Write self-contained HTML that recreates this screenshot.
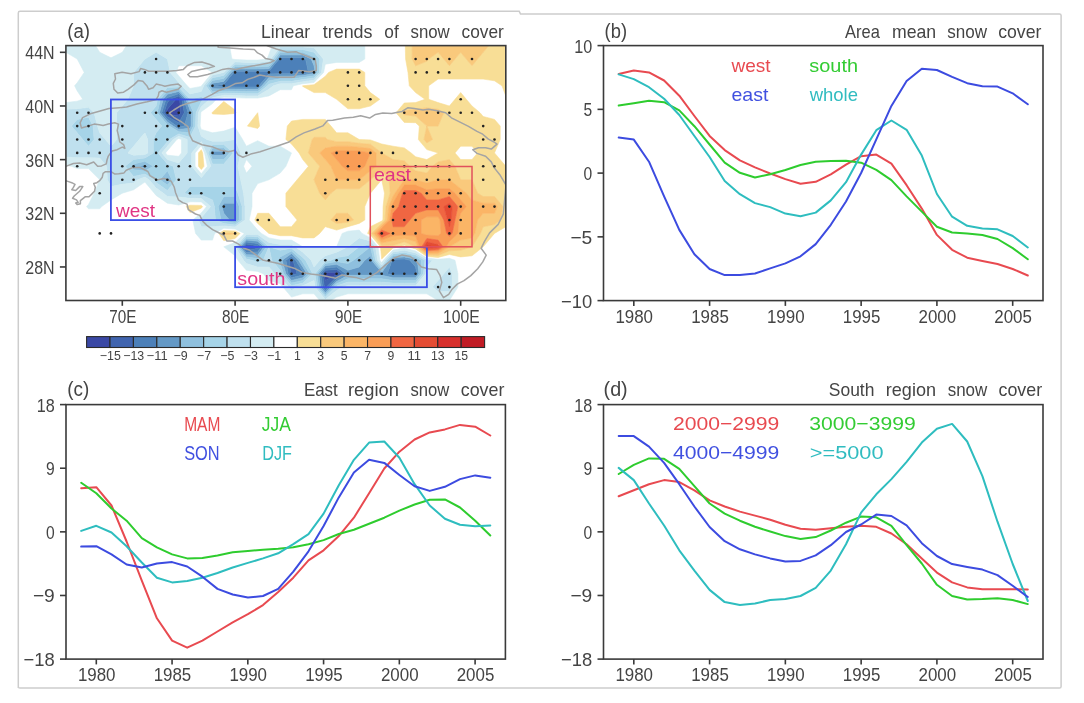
<!DOCTYPE html>
<html><head><meta charset="utf-8"><style>
html,body{margin:0;padding:0;background:#fff;width:1084px;height:703px;overflow:hidden}
svg{display:block;will-change:transform;filter:blur(0.4px)}
text{font-family:"Liberation Sans", sans-serif}
</style></head><body>
<svg width="1084" height="703" viewBox="0 0 1084 703">
<rect width="1084" height="703" fill="#fff"/>
<defs><clipPath id="mapclip"><rect x="65.9" y="45.6" width="439.9" height="254.9"/></clipPath></defs>
<g clip-path="url(#mapclip)"><path d="M324.4,273.7 325.3,280.4 336.6,274.8 338.5,273.7 336.6,272.3 325.3,272.6 324.4,273.7ZM245.5,246.8 246.4,248.0 252.0,246.8 246.4,245.9 245.5,246.8ZM166.3,112.7 167.4,114.0 178.7,116.0 180.6,112.7 179.7,99.3 178.7,98.1 175.9,99.3 167.4,109.3 166.3,112.7Z" fill="#3a48a5" stroke="#3a48a5" stroke-width="0.6" fill-rule="evenodd"/>
<path d="M324.4,287.1 325.3,288.2 326.5,287.1 336.6,277.0 342.2,273.7 336.6,269.6 325.3,270.3 322.5,273.7 324.4,287.1ZM325.3,280.4 324.4,273.7 325.3,272.6 336.6,272.3 338.5,273.7 336.6,274.8 325.3,280.4ZM290.4,273.7 291.5,275.0 297.1,273.7 292.9,260.3 291.5,258.9 289.6,260.3 290.4,273.7ZM243.8,246.8 246.4,250.2 257.7,248.5 258.9,246.8 257.7,245.7 246.4,244.0 243.8,246.8ZM246.4,248.0 245.5,246.8 246.4,245.9 252.0,246.8 246.4,248.0ZM164.0,112.7 167.4,116.7 178.7,122.7 184.3,112.7 181.8,99.3 178.7,95.9 170.2,99.3 167.4,102.6 164.0,112.7ZM167.4,114.0 166.3,112.7 167.4,109.3 175.9,99.3 178.7,98.1 179.7,99.3 180.6,112.7 178.7,116.0 167.4,114.0Z" fill="#4064af" stroke="#4064af" stroke-width="0.6" fill-rule="evenodd"/>
<path d="M322.5,287.1 325.3,290.4 328.7,287.1 336.6,279.3 346.0,273.7 336.6,267.0 325.3,268.1 320.6,273.7 322.5,287.1ZM325.3,288.2 324.4,287.1 322.5,273.7 325.3,270.3 336.6,269.6 342.2,273.7 336.6,277.0 326.5,287.1 325.3,288.2ZM288.1,273.7 291.5,277.7 302.8,275.0 304.2,273.7 302.8,271.4 295.7,260.3 291.5,256.2 285.9,260.3 288.1,273.7ZM291.5,275.0 290.4,273.7 289.6,260.3 291.5,258.9 292.9,260.3 297.1,273.7 291.5,275.0ZM387.4,273.7 393.0,275.0 404.3,275.0 415.6,275.0 416.7,273.7 415.6,267.0 409.9,260.3 404.3,259.1 393.0,259.3 392.1,260.3 387.4,273.7ZM242.0,246.8 246.4,252.4 257.7,251.9 261.4,246.8 257.7,243.5 246.4,242.0 242.0,246.8ZM246.4,250.2 243.8,246.8 246.4,244.0 257.7,245.7 258.9,246.8 257.7,248.5 246.4,250.2ZM176.8,126.1 178.7,127.2 184.3,126.1 188.1,112.7 183.8,99.3 178.7,93.7 167.4,97.6 166.0,99.3 161.8,112.7 167.4,119.4 176.8,126.1ZM167.4,116.7 164.0,112.7 167.4,102.6 170.2,99.3 178.7,95.9 181.8,99.3 184.3,112.7 178.7,122.7 167.4,116.7ZM212.5,85.8 212.5,85.8 223.8,86.9 235.1,86.9 246.4,87.0 257.7,87.0 259.1,85.8 268.9,74.1 280.2,73.7 291.5,73.7 302.8,73.5 308.4,72.4 305.6,59.0 302.8,57.7 291.5,57.7 280.2,57.7 279.2,59.0 268.9,71.2 257.7,71.3 246.4,71.3 235.1,71.3 233.8,72.4 223.8,84.4 212.5,85.8 212.5,85.8Z" fill="#4c80b9" stroke="#4c80b9" stroke-width="0.6" fill-rule="evenodd"/>
<path d="M320.6,287.1 325.3,292.7 331.0,287.1 336.6,281.5 347.9,275.3 359.2,275.3 370.4,275.3 381.7,275.3 393.0,277.7 404.3,277.7 415.6,277.7 418.9,273.7 417.4,260.3 415.6,259.2 404.3,256.9 393.0,257.5 390.4,260.3 381.7,272.4 371.5,260.3 370.4,255.8 364.8,260.3 359.2,267.0 347.9,270.3 336.6,264.3 325.3,265.8 318.7,273.7 320.6,287.1ZM325.3,290.4 322.5,287.1 320.6,273.7 325.3,268.1 336.6,267.0 346.0,273.7 336.6,279.3 328.7,287.1 325.3,290.4ZM393.0,275.0 387.4,273.7 392.1,260.3 393.0,259.3 404.3,259.1 409.9,260.3 415.6,267.0 416.7,273.7 415.6,275.0 404.3,275.0 393.0,275.0ZM285.9,273.7 291.5,280.4 302.8,277.7 307.0,273.7 302.8,267.0 298.5,260.3 291.5,253.5 282.1,260.3 285.9,273.7ZM291.5,277.7 288.1,273.7 285.9,260.3 291.5,256.2 295.7,260.3 302.8,271.4 304.2,273.7 302.8,275.0 291.5,277.7ZM240.3,246.8 246.4,254.7 257.7,255.2 263.9,246.8 257.7,241.2 246.4,240.1 240.3,246.8ZM246.4,252.4 242.0,246.8 246.4,242.0 257.7,243.5 261.4,246.8 257.7,251.9 246.4,252.4ZM229.5,220.0 235.1,221.0 236.5,220.0 236.5,206.6 235.1,203.2 223.8,203.2 221.9,206.6 223.8,213.3 229.5,220.0ZM167.4,179.8 167.4,179.8 167.4,179.8 167.4,179.8 167.4,179.8ZM139.2,166.3 144.9,167.9 147.7,166.3 144.9,164.7 139.2,166.3ZM211.6,152.9 212.5,155.2 223.8,155.2 225.7,152.9 223.8,151.2 212.5,151.2 211.6,152.9ZM173.1,126.1 178.7,129.4 190.0,128.3 191.1,126.1 191.2,112.7 190.0,110.0 185.9,99.3 178.7,91.4 167.4,94.2 163.2,99.3 159.5,112.7 167.4,122.1 173.1,126.1ZM178.7,127.2 176.8,126.1 167.4,119.4 161.8,112.7 166.0,99.3 167.4,97.6 178.7,93.7 183.8,99.3 188.1,112.7 184.3,126.1 178.7,127.2ZM210.3,85.8 212.5,88.8 223.8,89.0 235.1,89.0 246.4,89.2 257.7,89.2 261.9,85.8 268.9,77.5 280.2,76.2 291.5,76.2 302.8,75.5 314.0,73.5 315.1,72.4 314.0,65.7 311.2,59.0 302.8,55.0 291.5,55.0 280.2,55.0 277.1,59.0 268.9,68.7 257.7,69.1 246.4,69.1 235.1,68.9 231.3,72.4 223.8,81.4 212.5,83.2 210.3,85.8ZM212.5,85.8 212.5,85.8 212.5,85.8 223.8,84.4 233.8,72.4 235.1,71.3 246.4,71.3 257.7,71.3 268.9,71.2 279.2,59.0 280.2,57.7 291.5,57.7 302.8,57.7 305.6,59.0 308.4,72.4 302.8,73.5 291.5,73.7 280.2,73.7 268.9,74.1 259.1,85.8 257.7,87.0 246.4,87.0 235.1,86.9 223.8,86.9 212.5,85.8Z" fill="#6499c6" stroke="#6499c6" stroke-width="0.6" fill-rule="evenodd"/>
<path d="M318.7,287.1 325.3,294.9 333.2,287.1 336.6,283.7 347.9,278.7 359.2,278.7 370.4,278.7 381.7,278.7 393.0,280.4 404.3,280.4 415.6,280.4 421.2,273.7 421.2,260.3 415.6,257.2 404.3,254.7 393.0,255.6 388.6,260.3 381.7,270.0 373.6,260.3 370.4,246.8 370.4,246.8 370.4,246.8 359.2,255.8 353.5,260.3 347.9,263.6 336.6,261.6 325.3,263.6 316.9,273.7 318.7,287.1ZM325.3,292.7 320.6,287.1 318.7,273.7 325.3,265.8 336.6,264.3 347.9,270.3 359.2,267.0 364.8,260.3 370.4,255.8 371.5,260.3 381.7,272.4 390.4,260.3 393.0,257.5 404.3,256.9 415.6,259.2 417.4,260.3 418.9,273.7 415.6,277.7 404.3,277.7 393.0,277.7 381.7,275.3 370.4,275.3 359.2,275.3 347.9,275.3 336.6,281.5 331.0,287.1 325.3,292.7ZM283.6,273.7 291.5,283.1 302.8,280.4 309.8,273.7 302.8,262.5 301.4,260.3 291.5,250.9 280.2,256.9 277.4,260.3 280.2,263.6 283.6,273.7ZM291.5,280.4 285.9,273.7 282.1,260.3 291.5,253.5 298.5,260.3 302.8,267.0 307.0,273.7 302.8,277.7 291.5,280.4ZM238.6,246.8 246.4,256.9 257.7,258.6 266.4,246.8 257.7,239.0 246.4,238.2 238.6,246.8ZM246.4,254.7 240.3,246.8 246.4,240.1 257.7,241.2 263.9,246.8 257.7,255.2 246.4,254.7ZM221.0,220.0 223.8,221.2 235.1,223.0 239.3,220.0 239.3,206.6 235.1,196.5 223.8,196.5 218.2,206.6 221.0,220.0ZM235.1,221.0 229.5,220.0 223.8,213.3 221.9,206.6 223.8,203.2 235.1,203.2 236.5,206.6 236.5,220.0 235.1,221.0ZM159.9,179.8 167.4,185.1 171.9,179.8 167.4,170.8 159.9,179.8ZM167.4,179.8 167.4,179.8 167.4,179.8 167.4,179.8 167.4,179.8ZM130.8,166.3 133.6,169.7 144.9,170.9 153.3,166.3 144.9,161.3 133.6,164.1 130.8,166.3ZM144.9,167.9 139.2,166.3 144.9,164.7 147.7,166.3 144.9,167.9ZM209.8,152.9 212.5,159.6 223.8,159.6 229.5,152.9 223.8,147.9 212.5,147.9 209.8,152.9ZM212.5,155.2 211.6,152.9 212.5,151.2 223.8,151.2 225.7,152.9 223.8,155.2 212.5,155.2ZM88.5,126.1 88.5,126.1 88.5,126.1 88.5,126.1 88.5,126.1ZM169.3,126.1 178.7,131.7 190.0,132.8 193.4,126.1 193.6,112.7 190.0,104.6 187.9,99.3 178.7,89.2 167.4,90.9 160.4,99.3 157.3,112.7 167.4,124.8 169.3,126.1ZM178.7,129.4 173.1,126.1 167.4,122.1 159.5,112.7 163.2,99.3 167.4,94.2 178.7,91.4 185.9,99.3 190.0,110.0 191.2,112.7 191.1,126.1 190.0,128.3 178.7,129.4ZM208.1,85.8 212.5,91.8 223.8,91.0 235.1,91.2 246.4,91.4 257.7,91.4 264.7,85.8 268.9,80.8 280.2,78.8 291.5,78.8 302.8,77.6 314.0,75.8 317.2,72.4 315.9,59.0 314.0,56.8 302.8,52.3 291.5,52.3 280.2,52.3 275.0,59.0 268.9,66.2 257.7,66.8 246.4,66.8 235.1,66.5 228.8,72.4 223.8,78.4 212.5,80.5 208.1,85.8ZM212.5,88.8 210.3,85.8 212.5,83.2 223.8,81.4 231.3,72.4 235.1,68.9 246.4,69.1 257.7,69.1 268.9,68.7 277.1,59.0 280.2,55.0 291.5,55.0 302.8,55.0 311.2,59.0 314.0,65.7 315.1,72.4 314.0,73.5 302.8,75.5 291.5,76.2 280.2,76.2 268.9,77.5 261.9,85.8 257.7,89.2 246.4,89.2 235.1,89.0 223.8,89.0 212.5,88.8Z" fill="#8fc0de" stroke="#8fc0de" stroke-width="0.6" fill-rule="evenodd"/>
<path d="M316.9,287.1 325.3,297.1 335.5,287.1 336.6,286.0 347.9,282.1 359.2,282.1 370.4,282.1 381.7,282.1 393.0,283.1 404.3,283.1 415.6,283.1 423.5,273.7 425.0,260.3 415.6,255.1 404.3,252.4 393.0,253.7 386.9,260.3 381.7,267.5 375.6,260.3 373.0,246.8 370.4,243.9 359.2,246.8 359.2,246.8 347.9,255.8 336.6,257.6 331.0,260.3 325.3,261.4 315.0,273.7 316.9,287.1ZM325.3,294.9 318.7,287.1 316.9,273.7 325.3,263.6 336.6,261.6 347.9,263.6 353.5,260.3 359.2,255.8 370.4,246.8 370.4,246.8 370.4,246.8 373.6,260.3 381.7,270.0 388.6,260.3 393.0,255.6 404.3,254.7 415.6,257.2 421.2,260.3 421.2,273.7 415.6,280.4 404.3,280.4 393.0,280.4 381.7,278.7 370.4,278.7 359.2,278.7 347.9,278.7 336.6,283.7 333.2,287.1 325.3,294.9ZM281.3,273.7 291.5,285.7 302.8,283.1 312.6,273.7 305.6,260.3 302.8,257.6 291.5,248.2 280.2,250.2 268.9,246.8 268.9,246.8 257.7,236.8 246.4,236.3 236.8,246.8 246.4,259.1 252.0,260.3 257.7,262.5 263.3,260.3 268.9,246.8 271.8,260.3 280.2,270.3 281.3,273.7ZM291.5,283.1 283.6,273.7 280.2,263.6 277.4,260.3 280.2,256.9 291.5,250.9 301.4,260.3 302.8,262.5 309.8,273.7 302.8,280.4 291.5,283.1ZM246.4,256.9 238.6,246.8 246.4,238.2 257.7,239.0 266.4,246.8 257.7,258.6 246.4,256.9ZM215.4,220.0 223.8,223.5 235.1,225.0 242.1,220.0 242.1,206.6 237.9,193.2 235.1,186.5 223.8,186.5 212.5,186.5 201.3,186.5 190.0,186.5 184.3,193.2 190.0,194.9 201.3,194.9 212.5,199.9 214.4,206.6 215.4,220.0ZM223.8,221.2 221.0,220.0 218.2,206.6 223.8,196.5 235.1,196.5 239.3,206.6 239.3,220.0 235.1,223.0 223.8,221.2ZM153.8,179.8 156.1,182.6 167.4,190.5 176.4,179.8 173.1,166.3 167.4,164.1 158.0,152.9 167.4,141.7 169.3,139.5 178.7,133.9 190.0,137.3 195.6,126.1 196.0,112.7 201.3,101.7 204.1,99.3 201.3,96.7 190.0,99.3 178.7,87.0 167.4,87.5 157.5,99.3 156.1,106.0 150.5,112.7 156.1,119.4 161.8,126.1 156.1,132.8 153.3,139.5 153.3,152.9 144.9,158.0 133.6,159.6 125.1,166.3 133.6,176.4 144.9,174.0 153.8,179.8ZM167.4,185.1 159.9,179.8 167.4,170.8 171.9,179.8 167.4,185.1ZM178.7,131.7 169.3,126.1 167.4,124.8 157.3,112.7 160.4,99.3 167.4,90.9 178.7,89.2 187.9,99.3 190.0,104.6 193.6,112.7 193.4,126.1 190.0,132.8 178.7,131.7ZM133.6,169.7 130.8,166.3 133.6,164.1 144.9,161.3 153.3,166.3 144.9,170.9 133.6,169.7ZM208.1,152.9 212.5,164.1 223.8,164.1 233.2,152.9 223.8,144.5 212.5,144.5 208.1,152.9ZM212.5,159.6 209.8,152.9 212.5,147.9 223.8,147.9 229.5,152.9 223.8,159.6 212.5,159.6ZM82.8,139.5 88.5,146.2 94.1,139.5 93.0,126.1 88.5,117.2 77.2,119.4 71.5,126.1 77.2,132.8 82.8,139.5ZM88.5,126.1 88.5,126.1 88.5,126.1 88.5,126.1 88.5,126.1ZM205.9,85.8 212.5,94.8 223.8,93.1 235.1,93.3 246.4,93.7 257.7,93.7 267.5,85.8 268.9,84.2 280.2,81.3 291.5,81.3 302.8,79.6 314.0,78.0 319.4,72.4 319.7,59.0 314.0,52.3 302.8,49.6 291.5,49.6 280.2,49.6 272.9,59.0 268.9,63.7 257.7,64.6 246.4,64.6 235.1,64.2 226.3,72.4 223.8,75.4 212.5,77.8 205.9,85.8ZM212.5,91.8 208.1,85.8 212.5,80.5 223.8,78.4 228.8,72.4 235.1,66.5 246.4,66.8 257.7,66.8 268.9,66.2 275.0,59.0 280.2,52.3 291.5,52.3 302.8,52.3 314.0,56.8 315.9,59.0 317.2,72.4 314.0,75.8 302.8,77.6 291.5,78.8 280.2,78.8 268.9,80.8 264.7,85.8 257.7,91.4 246.4,91.4 235.1,91.2 223.8,91.0 212.5,91.8Z" fill="#a6d4e8" stroke="#a6d4e8" stroke-width="0.6" fill-rule="evenodd"/>
<path d="M288.7,287.1 291.5,290.4 297.1,287.1 302.8,285.7 314.0,280.4 315.0,287.1 325.3,299.4 336.6,290.4 342.2,287.1 347.9,285.4 359.2,285.4 370.4,285.4 381.7,285.4 393.0,285.7 404.3,285.7 415.6,285.7 425.7,273.7 426.8,267.0 432.5,260.3 426.8,259.5 415.6,253.0 404.3,250.2 393.0,251.9 385.1,260.3 381.7,265.1 377.7,260.3 375.5,246.8 370.4,240.9 359.2,237.9 347.9,246.8 347.9,246.8 336.6,252.2 325.3,255.8 319.7,260.3 314.0,267.0 311.2,260.3 302.8,252.2 295.2,246.8 291.5,244.6 280.2,244.6 268.9,242.4 257.7,234.5 246.4,234.4 235.1,246.8 235.1,246.8 235.1,246.8 243.6,260.3 246.4,263.6 257.7,267.0 268.9,267.0 274.6,273.7 280.2,277.0 288.7,287.1ZM291.5,285.7 281.3,273.7 280.2,270.3 271.8,260.3 268.9,246.8 263.3,260.3 257.7,262.5 252.0,260.3 246.4,259.1 236.8,246.8 246.4,236.3 257.7,236.8 268.9,246.8 268.9,246.8 280.2,250.2 291.5,248.2 302.8,257.6 305.6,260.3 312.6,273.7 302.8,283.1 291.5,285.7ZM325.3,297.1 316.9,287.1 315.0,273.7 325.3,261.4 331.0,260.3 336.6,257.6 347.9,255.8 359.2,246.8 359.2,246.8 370.4,243.9 373.0,246.8 375.6,260.3 381.7,267.5 386.9,260.3 393.0,253.7 404.3,252.4 415.6,255.1 425.0,260.3 423.5,273.7 415.6,283.1 404.3,283.1 393.0,283.1 381.7,282.1 370.4,282.1 359.2,282.1 347.9,282.1 336.6,286.0 335.5,287.1 325.3,297.1ZM432.5,287.1 438.1,291.6 449.4,291.6 452.2,287.1 452.2,273.7 449.4,267.0 443.8,273.7 438.1,280.4 432.5,287.1ZM198.4,220.0 201.3,226.7 212.5,226.7 223.8,225.9 235.1,227.0 245.0,220.0 245.0,206.6 243.6,193.2 240.7,179.8 237.9,166.3 240.7,152.9 235.1,139.5 235.1,139.5 235.1,139.5 223.8,141.2 212.5,141.2 206.9,139.5 201.3,136.2 197.9,126.1 198.4,112.7 201.3,106.7 209.7,99.3 212.5,97.8 223.8,95.2 235.1,95.4 246.4,95.9 257.7,95.9 268.9,89.2 273.3,85.8 280.2,83.8 291.5,83.8 302.8,81.7 314.0,80.3 321.5,72.4 323.4,59.0 314.0,47.8 302.8,46.9 291.5,46.9 280.2,46.9 270.8,59.0 268.9,61.3 257.7,62.4 246.4,62.4 235.1,61.8 223.8,72.4 223.8,72.4 212.5,75.1 203.7,85.8 201.3,91.5 190.0,93.9 181.5,85.8 178.7,82.5 170.2,72.4 167.4,59.0 167.4,59.0 156.1,52.3 144.9,59.0 144.9,59.0 133.6,72.4 133.6,72.4 133.6,85.8 127.9,99.3 122.3,106.0 116.7,112.7 116.7,126.1 116.7,139.5 111.0,146.2 105.4,139.5 99.7,132.8 97.5,126.1 94.1,112.7 88.5,107.3 77.2,108.8 65.9,109.3 65.9,112.7 65.9,126.1 65.9,139.5 65.9,152.9 65.9,157.1 77.2,157.7 88.5,157.7 99.7,158.1 106.7,166.3 107.3,179.8 111.0,186.5 122.3,184.2 133.6,183.1 137.6,179.8 144.9,177.0 149.1,179.8 156.1,188.1 163.4,193.2 167.4,196.5 178.7,197.1 190.0,198.3 201.3,198.4 210.6,206.6 201.3,217.7 198.4,220.0ZM223.8,223.5 215.4,220.0 214.4,206.6 212.5,199.9 201.3,194.9 190.0,194.9 184.3,193.2 190.0,186.5 201.3,186.5 212.5,186.5 223.8,186.5 235.1,186.5 237.9,193.2 242.1,206.6 242.1,220.0 235.1,225.0 223.8,223.5ZM212.5,94.8 205.9,85.8 212.5,77.8 223.8,75.4 226.3,72.4 235.1,64.2 246.4,64.6 257.7,64.6 268.9,63.7 272.9,59.0 280.2,49.6 291.5,49.6 302.8,49.6 314.0,52.3 319.7,59.0 319.4,72.4 314.0,78.0 302.8,79.6 291.5,81.3 280.2,81.3 268.9,84.2 267.5,85.8 257.7,93.7 246.4,93.7 235.1,93.3 223.8,93.1 212.5,94.8ZM88.5,146.2 82.8,139.5 77.2,132.8 71.5,126.1 77.2,119.4 88.5,117.2 93.0,126.1 94.1,139.5 88.5,146.2ZM156.1,182.6 153.8,179.8 144.9,174.0 133.6,176.4 125.1,166.3 133.6,159.6 144.9,158.0 153.3,152.9 153.3,139.5 156.1,132.8 161.8,126.1 156.1,119.4 150.5,112.7 156.1,106.0 157.5,99.3 167.4,87.5 178.7,87.0 190.0,99.3 201.3,96.7 204.1,99.3 201.3,101.7 196.0,112.7 195.6,126.1 190.0,137.3 178.7,133.9 169.3,139.5 167.4,141.7 158.0,152.9 167.4,164.1 173.1,166.3 176.4,179.8 167.4,190.5 156.1,182.6ZM201.3,177.7 191.7,166.3 191.7,152.9 201.3,141.5 206.3,152.9 210.8,166.3 201.3,177.7ZM212.5,164.1 208.1,152.9 212.5,144.5 223.8,144.5 233.2,152.9 223.8,164.1 212.5,164.1ZM133.6,155.2 127.9,152.9 133.6,146.2 139.2,139.5 144.9,132.8 147.7,139.5 147.7,152.9 144.9,154.6 133.6,155.2ZM167.4,159.6 161.8,152.9 167.4,146.2 173.1,139.5 178.7,136.2 187.2,139.5 187.2,152.9 178.7,163.0 167.4,159.6Z" fill="#bfe0ee" stroke="#bfe0ee" stroke-width="0.6" fill-rule="evenodd"/>
<path d="M283.0,287.1 291.5,297.1 302.8,293.8 314.0,293.8 319.7,300.5 325.3,300.5 331.0,300.5 336.6,297.1 347.9,293.8 359.2,293.8 370.4,293.8 381.7,293.8 393.0,293.8 404.3,293.8 415.6,293.8 426.8,293.8 438.1,300.5 438.1,300.5 449.4,300.5 449.4,300.5 457.9,287.1 457.9,273.7 455.0,260.3 449.4,258.3 438.1,259.3 426.8,258.0 415.6,251.0 404.3,248.0 393.0,250.0 383.4,260.3 381.7,262.6 379.8,260.3 378.0,246.8 370.4,237.9 362.0,233.4 359.2,230.1 347.9,231.2 342.2,233.4 336.6,246.8 325.3,246.8 314.0,246.8 302.8,246.8 291.5,240.1 280.2,240.1 268.9,237.9 261.4,233.4 257.7,230.1 249.2,220.0 252.0,206.6 252.0,193.2 257.7,183.6 268.9,179.8 268.9,179.8 280.2,173.1 285.9,166.3 291.5,152.9 291.5,152.9 291.5,152.9 280.2,146.2 268.9,146.2 257.7,140.7 246.4,146.2 242.6,139.5 235.1,127.3 223.8,131.1 212.5,132.8 201.3,129.4 200.1,126.1 200.8,112.7 201.3,111.7 212.5,103.6 216.3,99.3 223.8,97.2 235.1,97.6 246.4,98.1 257.7,98.1 268.9,95.9 280.2,89.7 291.5,89.7 293.3,85.8 302.8,83.7 314.0,82.5 323.6,72.4 325.3,64.2 336.6,62.4 347.9,62.4 359.2,62.4 364.8,59.0 364.8,45.6 359.2,45.6 347.9,45.6 336.6,45.6 325.3,45.6 314.0,45.6 302.8,45.6 291.5,45.6 280.2,45.6 272.2,45.6 268.9,54.5 267.1,59.0 257.7,60.1 246.4,60.1 235.1,59.5 231.9,59.0 229.5,45.6 223.8,45.6 212.5,45.6 201.3,45.6 190.0,45.6 178.7,45.6 167.4,45.6 156.1,45.6 144.9,45.6 133.6,45.6 126.5,45.6 122.3,52.3 111.0,57.8 99.7,52.3 95.5,45.6 88.5,45.6 77.2,45.6 65.9,45.6 65.9,52.3 77.2,59.0 77.2,59.0 84.2,72.4 77.2,82.8 74.6,85.8 77.2,90.9 82.8,99.3 77.2,101.2 65.9,102.6 65.9,109.3 77.2,108.8 88.5,107.3 94.1,112.7 97.5,126.1 99.7,132.8 105.4,139.5 111.0,146.2 116.7,139.5 116.7,126.1 116.7,112.7 122.3,106.0 127.9,99.3 133.6,85.8 133.6,72.4 133.6,72.4 144.9,59.0 144.9,59.0 156.1,52.3 167.4,59.0 167.4,59.0 170.2,72.4 178.7,82.5 181.5,85.8 190.0,93.9 201.3,91.5 203.7,85.8 212.5,75.1 223.8,72.4 223.8,72.4 235.1,61.8 246.4,62.4 257.7,62.4 268.9,61.3 270.8,59.0 280.2,46.9 291.5,46.9 302.8,46.9 314.0,47.8 323.4,59.0 321.5,72.4 314.0,80.3 302.8,81.7 291.5,83.8 280.2,83.8 273.3,85.8 268.9,89.2 257.7,95.9 246.4,95.9 235.1,95.4 223.8,95.2 212.5,97.8 209.7,99.3 201.3,106.7 198.4,112.7 197.9,126.1 201.3,136.2 206.9,139.5 212.5,141.2 223.8,141.2 235.1,139.5 235.1,139.5 235.1,139.5 240.7,152.9 237.9,166.3 240.7,179.8 243.6,193.2 245.0,206.6 245.0,220.0 235.1,227.0 223.8,225.9 212.5,226.7 201.3,226.7 198.4,220.0 201.3,217.7 210.6,206.6 201.3,198.4 190.0,198.3 178.7,197.1 167.4,196.5 163.4,193.2 156.1,188.1 149.1,179.8 144.9,177.0 137.6,179.8 133.6,183.1 122.3,184.2 111.0,186.5 107.3,179.8 106.7,166.3 99.7,158.1 88.5,157.7 77.2,157.7 65.9,157.1 65.9,165.5 71.5,166.3 77.2,168.6 88.5,168.6 99.7,179.8 94.1,193.2 88.5,204.4 86.6,206.6 88.5,208.8 99.7,208.8 101.6,206.6 111.0,199.9 122.3,193.2 122.3,193.2 133.6,189.8 144.9,182.0 154.3,193.2 156.1,195.4 167.4,203.2 178.7,205.0 190.0,201.8 201.3,201.9 206.6,206.6 201.3,212.9 192.8,220.0 195.6,233.4 201.3,240.1 212.5,240.1 214.6,233.4 223.8,228.2 235.1,229.0 244.3,233.4 235.1,242.6 223.8,246.8 223.8,246.8 223.8,246.8 235.1,255.8 237.9,260.3 246.4,270.3 257.7,271.4 263.3,273.7 268.9,280.4 280.2,283.7 283.0,287.1ZM291.5,290.4 288.7,287.1 280.2,277.0 274.6,273.7 268.9,267.0 257.7,267.0 246.4,263.6 243.6,260.3 235.1,246.8 235.1,246.8 235.1,246.8 246.4,234.4 257.7,234.5 268.9,242.4 280.2,244.6 291.5,244.6 295.2,246.8 302.8,252.2 311.2,260.3 314.0,267.0 319.7,260.3 325.3,255.8 336.6,252.2 347.9,246.8 347.9,246.8 359.2,237.9 370.4,240.9 375.5,246.8 377.7,260.3 381.7,265.1 385.1,260.3 393.0,251.9 404.3,250.2 415.6,253.0 426.8,259.5 432.5,260.3 426.8,267.0 425.7,273.7 415.6,285.7 404.3,285.7 393.0,285.7 381.7,285.4 370.4,285.4 359.2,285.4 347.9,285.4 342.2,287.1 336.6,290.4 325.3,299.4 315.0,287.1 314.0,280.4 302.8,285.7 297.1,287.1 291.5,290.4ZM438.1,291.6 432.5,287.1 438.1,280.4 443.8,273.7 449.4,267.0 452.2,273.7 452.2,287.1 449.4,291.6 438.1,291.6ZM190.0,88.5 187.2,85.8 178.7,75.8 175.9,72.4 178.7,65.7 190.0,65.7 201.3,65.7 212.5,72.4 201.5,85.8 201.3,86.4 190.0,88.5ZM246.4,173.1 243.6,166.3 246.4,159.6 252.0,166.3 246.4,173.1ZM191.7,166.3 201.3,177.7 210.8,166.3 206.3,152.9 201.3,141.5 191.7,152.9 191.7,166.3ZM201.3,173.7 195.1,166.3 195.1,152.9 201.3,145.6 204.5,152.9 207.4,166.3 201.3,173.7ZM127.9,152.9 133.6,155.2 144.9,154.6 147.7,152.9 147.7,139.5 144.9,132.8 139.2,139.5 133.6,146.2 127.9,152.9ZM161.8,152.9 167.4,159.6 178.7,163.0 187.2,152.9 187.2,139.5 178.7,136.2 173.1,139.5 167.4,146.2 161.8,152.9ZM167.4,155.2 165.5,152.9 167.4,150.7 176.8,139.5 178.7,138.4 181.5,139.5 181.5,152.9 178.7,156.3 167.4,155.2Z" fill="#d4ecf2" stroke="#d4ecf2" stroke-width="0.6" fill-rule="evenodd"/>
<path d="M380.5,246.8 381.7,259.0 393.0,248.1 399.6,246.8 404.3,245.2 408.0,246.8 415.6,248.9 426.8,256.5 438.1,257.4 449.4,254.5 460.7,256.9 472.0,255.8 483.2,246.8 483.2,246.8 494.5,233.4 494.5,233.4 505.8,226.7 505.8,220.0 505.8,206.6 505.8,193.2 505.8,179.8 505.8,166.3 505.8,166.3 494.5,152.9 494.5,152.9 494.5,152.9 500.2,139.5 500.2,126.1 494.5,119.4 483.2,116.5 480.0,112.7 472.0,106.0 466.3,99.3 460.7,92.6 455.0,99.3 449.4,106.0 438.1,102.6 428.7,99.3 428.7,85.8 438.1,79.1 449.4,79.1 460.7,79.1 472.0,79.1 483.2,79.1 494.5,80.8 502.0,85.8 505.8,95.9 505.8,85.8 505.8,72.4 505.8,59.0 505.8,45.6 494.5,45.6 488.9,45.6 483.2,52.3 477.6,59.0 472.0,65.7 466.3,59.0 460.7,52.3 455.0,59.0 449.4,65.7 443.8,59.0 438.1,52.3 428.7,59.0 426.8,61.3 415.6,65.7 412.2,59.0 412.1,45.6 405.3,45.6 405.6,59.0 408.0,72.4 409.3,85.8 415.6,92.6 425.0,99.3 415.6,102.6 404.3,103.0 396.1,112.7 404.3,122.4 415.6,122.7 419.3,126.1 418.4,139.5 426.8,149.6 438.1,152.9 438.1,152.9 438.1,152.9 426.8,159.6 415.6,156.8 411.1,152.9 404.3,147.9 393.0,146.2 381.7,144.0 370.4,139.9 359.2,139.5 359.2,139.5 347.9,132.8 336.6,132.8 331.0,126.1 325.3,119.4 314.0,119.4 302.8,119.4 291.5,121.1 287.3,126.1 285.9,139.5 291.5,144.0 299.0,152.9 302.8,159.6 308.4,166.3 302.8,173.1 297.1,179.8 291.5,186.5 285.9,193.2 285.9,206.6 291.5,213.3 297.1,220.0 291.5,226.7 280.2,226.7 274.6,220.0 268.9,213.3 257.7,213.3 254.8,220.0 257.7,223.4 268.9,233.4 268.9,233.4 280.2,235.7 291.5,235.7 302.8,237.9 314.0,237.9 319.7,233.4 325.3,226.7 336.6,230.1 347.9,226.7 359.2,223.4 364.8,220.0 364.8,206.6 370.4,193.2 370.4,193.2 381.7,179.8 381.7,179.8 381.7,179.8 384.5,193.2 383.1,206.6 382.9,220.0 381.7,221.1 370.4,226.7 367.6,233.4 370.4,234.9 380.5,246.8ZM426.8,255.0 415.6,246.8 415.6,246.8 404.3,241.8 393.0,245.4 381.7,245.5 371.6,233.4 381.7,223.4 385.1,220.0 386.0,206.6 390.2,193.2 389.2,179.8 381.7,170.8 370.4,179.8 370.4,179.8 359.2,188.7 347.9,188.7 336.6,188.7 331.0,193.2 325.3,199.9 319.7,193.2 314.0,179.8 319.7,166.3 314.0,159.6 308.4,152.9 312.2,139.5 314.0,137.3 325.3,137.3 327.2,139.5 336.6,141.7 347.9,141.7 359.2,143.3 370.4,144.3 381.7,152.9 381.7,152.9 393.0,159.6 404.3,160.8 409.9,166.3 415.6,170.8 426.8,173.1 432.5,166.3 438.1,161.9 449.4,159.6 455.0,166.3 460.7,179.8 460.7,179.8 472.0,179.8 477.6,193.2 483.2,196.5 494.5,196.5 503.0,206.6 500.2,220.0 494.5,224.5 483.2,226.7 480.4,233.4 472.0,246.8 472.0,246.8 460.7,250.2 449.4,250.7 438.1,255.5 426.8,255.0ZM404.3,114.9 402.4,112.7 404.3,110.4 415.6,109.3 426.8,107.9 438.1,109.3 443.8,112.7 438.1,126.1 426.8,126.1 415.6,116.0 404.3,114.9ZM426.8,142.9 424.0,139.5 426.8,126.1 432.5,139.5 426.8,142.9ZM336.6,223.4 331.0,220.0 336.6,213.3 347.9,213.3 353.5,220.0 347.9,222.2 336.6,223.4ZM460.7,159.6 455.0,152.9 460.7,146.2 472.0,146.2 477.6,152.9 472.0,159.6 460.7,159.6ZM218.8,233.4 223.8,240.7 235.1,238.5 240.1,233.4 235.1,231.0 223.8,230.6 218.8,233.4ZM223.8,234.6 223.0,233.4 223.8,233.0 235.1,233.0 235.9,233.4 235.1,234.3 223.8,234.6ZM186.2,206.6 190.0,212.6 201.3,208.2 202.6,206.6 201.3,205.4 190.0,205.2 186.2,206.6ZM198.5,166.3 201.3,169.6 204.0,166.3 202.7,152.9 201.3,149.7 198.5,152.9 198.5,166.3ZM247.4,126.1 257.7,128.4 259.6,126.1 257.7,112.7 247.4,126.1ZM211.9,112.7 212.5,113.9 223.8,114.4 235.1,113.4 235.8,112.7 235.1,110.0 223.8,101.5 212.5,112.2 211.9,112.7ZM336.6,99.3 347.9,108.8 359.2,108.8 370.4,106.0 379.8,99.3 370.4,92.6 364.8,85.8 364.8,72.4 359.2,69.1 347.9,69.1 336.6,69.1 328.6,72.4 325.3,76.3 314.0,84.7 302.8,85.8 302.6,85.8 302.8,86.4 314.0,92.6 325.3,92.6 336.6,99.3 336.6,99.3Z" fill="#f8de96" stroke="#f8de96" stroke-width="0.6" fill-rule="evenodd"/>
<path d="M415.6,246.8 426.8,255.0 438.1,255.5 449.4,250.7 460.7,250.2 472.0,246.8 472.0,246.8 480.4,233.4 483.2,226.7 494.5,224.5 500.2,220.0 503.0,206.6 494.5,196.5 483.2,196.5 477.6,193.2 472.0,179.8 460.7,179.8 460.7,179.8 455.0,166.3 449.4,159.6 438.1,161.9 432.5,166.3 426.8,173.1 415.6,170.8 409.9,166.3 404.3,160.8 393.0,159.6 381.7,152.9 381.7,152.9 370.4,144.3 359.2,143.3 347.9,141.7 336.6,141.7 327.2,139.5 325.3,137.3 314.0,137.3 312.2,139.5 308.4,152.9 314.0,159.6 319.7,166.3 314.0,179.8 319.7,193.2 325.3,199.9 331.0,193.2 336.6,188.7 347.9,188.7 359.2,188.7 370.4,179.8 370.4,179.8 381.7,170.8 389.2,179.8 390.2,193.2 386.0,206.6 385.1,220.0 381.7,223.4 371.6,233.4 381.7,245.5 393.0,245.4 404.3,241.8 415.6,246.8 415.6,246.8ZM426.8,253.5 417.6,246.8 415.6,241.5 404.3,238.5 393.0,240.6 381.7,242.8 373.8,233.4 381.7,225.6 387.4,220.0 388.8,206.6 393.0,196.5 394.9,193.2 404.3,179.8 415.6,179.8 426.8,183.1 438.1,179.8 449.4,179.8 460.7,188.7 466.3,193.2 472.0,199.9 483.2,203.2 494.5,203.2 497.3,206.6 494.5,213.3 483.2,213.3 477.6,220.0 474.8,233.4 472.0,237.9 460.7,240.1 449.4,246.8 449.4,246.8 438.1,253.5 426.8,253.5ZM336.6,179.8 331.0,166.3 325.3,159.6 319.7,152.9 325.3,148.1 336.6,146.2 347.9,146.2 359.2,147.2 370.4,148.6 376.1,152.9 376.1,166.3 370.4,170.8 359.2,179.8 347.9,179.8 336.6,179.8ZM223.0,233.4 223.8,234.6 235.1,234.3 235.9,233.4 235.1,233.0 223.8,233.0 223.0,233.4ZM331.0,220.0 336.6,223.4 347.9,222.2 353.5,220.0 347.9,213.3 336.6,213.3 331.0,220.0ZM424.0,139.5 426.8,142.9 432.5,139.5 426.8,126.1 424.0,139.5ZM402.4,112.7 404.3,114.9 415.6,116.0 426.8,126.1 438.1,126.1 443.8,112.7 438.1,109.3 426.8,107.9 415.6,109.3 404.3,110.4 402.4,112.7ZM412.2,59.0 415.6,65.7 426.8,61.3 428.7,59.0 438.1,52.3 443.8,59.0 449.4,65.7 455.0,59.0 460.7,52.3 466.3,59.0 472.0,65.7 477.6,59.0 483.2,52.3 488.9,45.6 483.2,45.6 472.0,45.6 460.7,45.6 449.4,45.6 438.1,45.6 426.8,45.6 415.6,45.6 412.1,45.6 412.2,59.0Z" fill="#f9c97c" stroke="#f9c97c" stroke-width="0.6" fill-rule="evenodd"/>
<path d="M417.6,246.8 426.8,253.5 438.1,253.5 449.4,246.8 449.4,246.8 460.7,240.1 472.0,237.9 474.8,233.4 477.6,220.0 483.2,213.3 494.5,213.3 497.3,206.6 494.5,203.2 483.2,203.2 472.0,199.9 466.3,193.2 460.7,188.7 449.4,179.8 438.1,179.8 426.8,183.1 415.6,179.8 404.3,179.8 394.9,193.2 393.0,196.5 388.8,206.6 387.4,220.0 381.7,225.6 373.8,233.4 381.7,242.8 393.0,240.6 404.3,238.5 415.6,241.5 417.6,246.8ZM426.8,252.1 419.7,246.8 415.6,236.1 404.3,235.1 393.0,235.8 381.7,240.1 376.1,233.4 381.7,227.8 389.6,220.0 391.6,206.6 393.0,203.2 398.6,193.2 404.3,185.1 415.6,185.1 426.8,189.8 438.1,188.7 449.4,188.7 455.0,193.2 460.7,199.9 466.3,206.6 460.7,213.3 458.8,220.0 457.9,233.4 449.4,241.5 446.2,246.8 438.1,251.6 426.8,252.1ZM421.2,233.4 426.8,235.1 438.1,235.7 440.9,233.4 440.0,220.0 438.1,216.7 426.8,216.7 421.2,220.0 421.2,233.4ZM331.0,166.3 336.6,179.8 347.9,179.8 359.2,179.8 370.4,170.8 376.1,166.3 376.1,152.9 370.4,148.6 359.2,147.2 347.9,146.2 336.6,146.2 325.3,148.1 319.7,152.9 325.3,159.6 331.0,166.3ZM347.9,170.8 342.2,166.3 336.6,159.6 331.0,152.9 336.6,150.7 347.9,150.7 359.2,151.0 370.4,152.9 364.8,166.3 359.2,170.8 347.9,170.8Z" fill="#fbb566" stroke="#fbb566" stroke-width="0.6" fill-rule="evenodd"/>
<path d="M419.7,246.8 426.8,252.1 438.1,251.6 446.2,246.8 449.4,241.5 457.9,233.4 458.8,220.0 460.7,213.3 466.3,206.6 460.7,199.9 455.0,193.2 449.4,188.7 438.1,188.7 426.8,189.8 415.6,185.1 404.3,185.1 398.6,193.2 393.0,203.2 391.6,206.6 389.6,220.0 381.7,227.8 376.1,233.4 381.7,240.1 393.0,235.8 404.3,235.1 415.6,236.1 419.7,246.8ZM426.8,250.6 421.7,246.8 426.8,238.5 438.1,240.1 443.0,246.8 438.1,249.7 426.8,250.6ZM449.4,236.1 446.6,233.4 443.8,220.0 438.1,209.9 426.8,209.9 415.6,213.3 409.9,220.0 404.3,226.7 393.0,226.7 391.9,220.0 393.0,213.3 398.6,206.6 402.4,193.2 404.3,190.5 415.6,190.5 421.2,193.2 426.8,199.9 438.1,199.9 449.4,196.5 457.9,206.6 455.0,220.0 452.2,233.4 449.4,236.1ZM381.7,237.4 378.3,233.4 381.7,230.1 390.2,233.4 381.7,237.4ZM426.8,235.1 421.2,233.4 421.2,220.0 426.8,216.7 438.1,216.7 440.0,220.0 440.9,233.4 438.1,235.7 426.8,235.1ZM342.2,166.3 347.9,170.8 359.2,170.8 364.8,166.3 370.4,152.9 359.2,151.0 347.9,150.7 336.6,150.7 331.0,152.9 336.6,159.6 342.2,166.3Z" fill="#f99d56" stroke="#f99d56" stroke-width="0.6" fill-rule="evenodd"/>
<path d="M421.7,246.8 426.8,250.6 438.1,249.7 443.0,246.8 438.1,240.1 426.8,238.5 421.7,246.8ZM426.8,249.1 423.8,246.8 426.8,241.8 438.1,244.6 439.7,246.8 438.1,247.8 426.8,249.1ZM378.3,233.4 381.7,237.4 390.2,233.4 381.7,230.1 378.3,233.4ZM381.7,234.8 380.6,233.4 381.7,232.3 384.5,233.4 381.7,234.8ZM446.6,233.4 449.4,236.1 452.2,233.4 455.0,220.0 457.9,206.6 449.4,196.5 438.1,199.9 426.8,199.9 421.2,193.2 415.6,190.5 404.3,190.5 402.4,193.2 398.6,206.6 393.0,213.3 391.9,220.0 393.0,226.7 404.3,226.7 409.9,220.0 415.6,213.3 426.8,209.9 438.1,209.9 443.8,220.0 446.6,233.4ZM449.4,226.7 447.5,220.0 443.8,206.6 449.4,203.2 452.2,206.6 451.3,220.0 449.4,226.7Z" fill="#f06642" stroke="#f06642" stroke-width="0.6" fill-rule="evenodd"/>
<path d="M423.8,246.8 426.8,249.1 438.1,247.8 439.7,246.8 438.1,244.6 426.8,241.8 423.8,246.8ZM426.8,247.6 425.8,246.8 426.8,245.2 432.5,246.8 426.8,247.6ZM380.6,233.4 381.7,234.8 384.5,233.4 381.7,232.3 380.6,233.4ZM447.5,220.0 449.4,226.7 451.3,220.0 452.2,206.6 449.4,203.2 443.8,206.6 447.5,220.0Z" fill="#e44c33" stroke="#e44c33" stroke-width="0.6" fill-rule="evenodd"/>
<path d="M425.8,246.8 426.8,247.6 432.5,246.8 426.8,245.2 425.8,246.8Z" fill="#d7302c" stroke="#d7302c" stroke-width="0.6" fill-rule="evenodd"/>
<path d="M218.1,45.6 L218.1,47.2 L229.9,47.9 L243.2,49.0 L254.3,49.5 L257.6,52.9 L262.0,55.1 L265.4,58.4 L270.9,59.5 L274.2,60.6 L269.8,62.8 L260.9,64.5 L252.1,66.1 L243.2,67.8 L235.8,69.4 L228.4,68.6 L222.5,69.4 L216.6,71.6 L207.7,74.5 L197.4,76.7 L190.0,76.7 L187.8,74.5 L191.5,71.6 L200.4,69.4 L209.2,67.9 L214.4,66.4 L209.2,64.2 L201.8,62.0 L194.5,62.4 L187.1,65.7 L183.4,69.4 L176.8,70.4 L167.9,71.3 L159.0,71.3 L148.7,71.3 L144.3,69.4 L140.6,68.6 L139.1,71.6 L131.0,73.8 L122.1,72.3 L114.8,73.8 L115.5,79.0 L113.3,83.4 L114.0,89.3 L117.7,93.0 L123.6,92.2 L128.0,89.3 L133.9,84.9 L138.4,80.4 L142.8,81.2 L147.2,86.3 L148.7,89.3 L153.1,87.8 L156.1,84.1 L160.5,84.9 L164.9,86.3 L170.8,84.9 L178.2,84.1 L181.2,86.3 L178.2,89.3 L172.3,90.8 L166.4,92.2 L162.0,90.8 L159.0,92.2 L158.3,95.9 L156.1,99.6 L147.2,101.8 L136.9,104.0 L126.6,107.0 L119.2,107.7 L108.9,108.5 L99.3,111.3 L90.3,113.8 L82.6,117.7 L80.1,122.8 L81.4,127.9 L86.5,126.6 L94.2,124.1 L99.3,124.7 L103.1,125.4 L108.3,124.1 L114.7,122.8 L118.5,124.1 L117.2,130.5 L118.5,135.6 L119.8,142.0 L123.6,144.6 L124.9,148.4 L122.3,147.1 L117.2,149.7 L112.1,151.0 L108.3,156.1 L107.0,160.0 L106.3,163.9 L101.6,165.9 L97.6,166.3 L93.7,162.0 L86.7,164.7 L79.6,163.1 L73.4,163.5 L67.1,165.9 L65.0,166.5" fill="none" stroke="#a4a4a4" stroke-width="1.5" stroke-linejoin="round"/>
<path d="M266.0,45.0 L268.7,46.2 L276.4,49.0 L287.5,52.3 L296.4,51.8 L298.6,52.9 L304.1,55.1 L309.7,57.3 L315.2,59.5 L316.3,66.1 L316.3,70.6 L309.7,71.7 L298.6,70.6 L294.2,77.2 L287.5,77.2 L276.4,77.2 L265.4,76.1 L259.8,75.0 L254.3,77.2 L247.7,79.4 L242.1,82.8 L235.8,83.4 L226.9,87.8 L218.1,90.8 L212.2,94.4 L203.3,98.9 L194.5,101.8 L185.6,104.0 L179.7,106.3 L173.8,110.0 L169.2,113.1 L173.8,117.3 L181.7,122.0 L188.0,126.7 L189.5,134.5 L192.7,140.8 L202.1,144.7 L213.1,147.1 L220.9,150.2 L228.7,151.8 L235.0,150.2 L238.1,154.9 L242.9,157.2 L250.7,154.1 L260.1,151.8 L269.5,148.6 L278.9,145.5 L288.3,142.3 L296.2,136.9 L304.0,132.9 L315.0,129.0 L322.8,125.9 L327.5,120.4 L332.7,120.3 L344.5,118.1 L353.3,117.3 L360.7,115.8 L369.6,118.1 L375.5,114.4 L382.8,112.9 L391.7,113.6 L397.6,112.2 L402.1,111.4 L408.0,107.7 L414.4,108.6 L423.0,110.0 L428.7,109.3 L437.2,110.7 L445.7,112.8 L451.4,117.8 L460.0,122.1 L468.5,126.3 L477.0,131.3 L482.7,134.2 L488.4,139.1 L494.1,142.0 L497.0,144.1 L491.3,149.1 L485.6,147.7 L478.5,147.7 L472.8,149.8 L477.0,153.4 L485.6,156.2 L491.3,161.9 L494.1,167.6 L499.8,174.7 L504.1,181.8 L506.0,185.1 L503.3,214.1 L498.2,224.4 L489.6,232.9 L484.5,241.4 L481.1,248.3 L486.2,255.1 L482.8,261.9 L477.7,268.7 L470.8,275.6 L464.0,280.7 L457.2,284.1 L452.1,289.2 L448.7,294.3 L443.5,297.7 L439.3,290.9 L441.8,282.4 L440.1,275.6 L436.7,269.6 L428.2,268.7 L421.4,267.0 L416.0,261.0 L410.4,256.5 L402.1,254.9 L393.8,258.3 L385.5,264.9 L377.2,272.4 L368.9,277.4 L363.9,279.9 L355.6,277.4 L349.0,276.5 L342.3,274.9 L335.7,278.2 L327.4,276.5 L319.1,274.9 L310.8,274.0 L302.4,272.4 L294.1,268.2 L285.8,265.7 L277.5,263.2 L269.2,261.6 L262.6,259.9 L255.9,254.9 L249.3,250.0 L243.9,248.2 L238.2,243.9 L232.5,241.0 L226.8,241.0 L224.0,235.3 L218.3,232.5 L212.6,229.7 L206.9,225.4 L202.6,221.1 L199.8,215.4 L195.5,214.0 L188.4,209.7 L187.0,204.1 L182.7,202.6 L178.4,199.8 L175.6,192.7 L174.2,187.0 L171.3,181.3 L164.2,178.4 L157.1,179.9 L150.0,175.6 L147.9,171.5 L140.3,167.6 L132.6,167.6 L126.2,170.2 L124.0,172.9 L118.8,173.7 L114.9,174.1 L111.0,171.7 L105.5,171.7 L103.1,173.3 L102.3,177.2 L100.0,180.3 L96.9,182.7 L93.7,183.5 L95.3,187.4 L94.5,191.3 L92.2,193.6 L89.0,196.8 L85.1,196.8 L80.4,200.7 L80.4,203.8 L77.3,204.6 L75.7,203.0 L78.1,202.3 L76.5,199.9 L72.6,198.3 L74.2,196.0 L79.6,191.3 L82.8,186.6 L79.6,186.6 L75.7,190.5 L71.8,189.7 L73.4,187.4 L75.0,184.3 L71.8,182.7 L67.1,181.1 L65.0,180.5" fill="none" stroke="#a4a4a4" stroke-width="1.5" stroke-linejoin="round"/>
<circle cx="156.1" cy="59.0" r="1.3" fill="#222"/>
<circle cx="280.2" cy="59.0" r="1.3" fill="#222"/>
<circle cx="291.5" cy="59.0" r="1.3" fill="#222"/>
<circle cx="302.8" cy="59.0" r="1.3" fill="#222"/>
<circle cx="314.0" cy="59.0" r="1.3" fill="#222"/>
<circle cx="415.6" cy="59.0" r="1.3" fill="#222"/>
<circle cx="426.8" cy="59.0" r="1.3" fill="#222"/>
<circle cx="438.1" cy="59.0" r="1.3" fill="#222"/>
<circle cx="449.4" cy="59.0" r="1.3" fill="#222"/>
<circle cx="472.0" cy="59.0" r="1.3" fill="#222"/>
<circle cx="144.9" cy="72.4" r="1.3" fill="#222"/>
<circle cx="156.1" cy="72.4" r="1.3" fill="#222"/>
<circle cx="167.4" cy="72.4" r="1.3" fill="#222"/>
<circle cx="235.1" cy="72.4" r="1.3" fill="#222"/>
<circle cx="246.4" cy="72.4" r="1.3" fill="#222"/>
<circle cx="257.7" cy="72.4" r="1.3" fill="#222"/>
<circle cx="268.9" cy="72.4" r="1.3" fill="#222"/>
<circle cx="280.2" cy="72.4" r="1.3" fill="#222"/>
<circle cx="291.5" cy="72.4" r="1.3" fill="#222"/>
<circle cx="302.8" cy="72.4" r="1.3" fill="#222"/>
<circle cx="314.0" cy="72.4" r="1.3" fill="#222"/>
<circle cx="347.9" cy="72.4" r="1.3" fill="#222"/>
<circle cx="359.2" cy="72.4" r="1.3" fill="#222"/>
<circle cx="415.6" cy="72.4" r="1.3" fill="#222"/>
<circle cx="426.8" cy="72.4" r="1.3" fill="#222"/>
<circle cx="438.1" cy="72.4" r="1.3" fill="#222"/>
<circle cx="449.4" cy="72.4" r="1.3" fill="#222"/>
<circle cx="212.5" cy="85.8" r="1.3" fill="#222"/>
<circle cx="223.8" cy="85.8" r="1.3" fill="#222"/>
<circle cx="246.4" cy="85.8" r="1.3" fill="#222"/>
<circle cx="257.7" cy="85.8" r="1.3" fill="#222"/>
<circle cx="347.9" cy="85.8" r="1.3" fill="#222"/>
<circle cx="359.2" cy="85.8" r="1.3" fill="#222"/>
<circle cx="347.9" cy="99.3" r="1.3" fill="#222"/>
<circle cx="359.2" cy="99.3" r="1.3" fill="#222"/>
<circle cx="370.4" cy="99.3" r="1.3" fill="#222"/>
<circle cx="460.7" cy="99.3" r="1.3" fill="#222"/>
<circle cx="77.2" cy="112.7" r="1.3" fill="#222"/>
<circle cx="88.5" cy="112.7" r="1.3" fill="#222"/>
<circle cx="144.9" cy="112.7" r="1.3" fill="#222"/>
<circle cx="156.1" cy="112.7" r="1.3" fill="#222"/>
<circle cx="167.4" cy="112.7" r="1.3" fill="#222"/>
<circle cx="178.7" cy="112.7" r="1.3" fill="#222"/>
<circle cx="190.0" cy="112.7" r="1.3" fill="#222"/>
<circle cx="404.3" cy="112.7" r="1.3" fill="#222"/>
<circle cx="415.6" cy="112.7" r="1.3" fill="#222"/>
<circle cx="426.8" cy="112.7" r="1.3" fill="#222"/>
<circle cx="438.1" cy="112.7" r="1.3" fill="#222"/>
<circle cx="449.4" cy="112.7" r="1.3" fill="#222"/>
<circle cx="460.7" cy="112.7" r="1.3" fill="#222"/>
<circle cx="472.0" cy="112.7" r="1.3" fill="#222"/>
<circle cx="77.2" cy="126.1" r="1.3" fill="#222"/>
<circle cx="88.5" cy="126.1" r="1.3" fill="#222"/>
<circle cx="122.3" cy="126.1" r="1.3" fill="#222"/>
<circle cx="156.1" cy="126.1" r="1.3" fill="#222"/>
<circle cx="167.4" cy="126.1" r="1.3" fill="#222"/>
<circle cx="178.7" cy="126.1" r="1.3" fill="#222"/>
<circle cx="483.2" cy="126.1" r="1.3" fill="#222"/>
<circle cx="77.2" cy="139.5" r="1.3" fill="#222"/>
<circle cx="88.5" cy="139.5" r="1.3" fill="#222"/>
<circle cx="99.7" cy="139.5" r="1.3" fill="#222"/>
<circle cx="122.3" cy="139.5" r="1.3" fill="#222"/>
<circle cx="156.1" cy="139.5" r="1.3" fill="#222"/>
<circle cx="167.4" cy="139.5" r="1.3" fill="#222"/>
<circle cx="483.2" cy="139.5" r="1.3" fill="#222"/>
<circle cx="494.5" cy="139.5" r="1.3" fill="#222"/>
<circle cx="77.2" cy="152.9" r="1.3" fill="#222"/>
<circle cx="88.5" cy="152.9" r="1.3" fill="#222"/>
<circle cx="99.7" cy="152.9" r="1.3" fill="#222"/>
<circle cx="156.1" cy="152.9" r="1.3" fill="#222"/>
<circle cx="212.5" cy="152.9" r="1.3" fill="#222"/>
<circle cx="223.8" cy="152.9" r="1.3" fill="#222"/>
<circle cx="246.4" cy="152.9" r="1.3" fill="#222"/>
<circle cx="336.6" cy="152.9" r="1.3" fill="#222"/>
<circle cx="347.9" cy="152.9" r="1.3" fill="#222"/>
<circle cx="359.2" cy="152.9" r="1.3" fill="#222"/>
<circle cx="370.4" cy="152.9" r="1.3" fill="#222"/>
<circle cx="381.7" cy="152.9" r="1.3" fill="#222"/>
<circle cx="393.0" cy="152.9" r="1.3" fill="#222"/>
<circle cx="77.2" cy="166.3" r="1.3" fill="#222"/>
<circle cx="122.3" cy="166.3" r="1.3" fill="#222"/>
<circle cx="133.6" cy="166.3" r="1.3" fill="#222"/>
<circle cx="144.9" cy="166.3" r="1.3" fill="#222"/>
<circle cx="156.1" cy="166.3" r="1.3" fill="#222"/>
<circle cx="167.4" cy="166.3" r="1.3" fill="#222"/>
<circle cx="178.7" cy="166.3" r="1.3" fill="#222"/>
<circle cx="190.0" cy="166.3" r="1.3" fill="#222"/>
<circle cx="347.9" cy="166.3" r="1.3" fill="#222"/>
<circle cx="359.2" cy="166.3" r="1.3" fill="#222"/>
<circle cx="404.3" cy="166.3" r="1.3" fill="#222"/>
<circle cx="415.6" cy="166.3" r="1.3" fill="#222"/>
<circle cx="426.8" cy="166.3" r="1.3" fill="#222"/>
<circle cx="438.1" cy="166.3" r="1.3" fill="#222"/>
<circle cx="449.4" cy="166.3" r="1.3" fill="#222"/>
<circle cx="483.2" cy="166.3" r="1.3" fill="#222"/>
<circle cx="494.5" cy="166.3" r="1.3" fill="#222"/>
<circle cx="122.3" cy="179.8" r="1.3" fill="#222"/>
<circle cx="133.6" cy="179.8" r="1.3" fill="#222"/>
<circle cx="156.1" cy="179.8" r="1.3" fill="#222"/>
<circle cx="167.4" cy="179.8" r="1.3" fill="#222"/>
<circle cx="178.7" cy="179.8" r="1.3" fill="#222"/>
<circle cx="190.0" cy="179.8" r="1.3" fill="#222"/>
<circle cx="325.3" cy="179.8" r="1.3" fill="#222"/>
<circle cx="336.6" cy="179.8" r="1.3" fill="#222"/>
<circle cx="347.9" cy="179.8" r="1.3" fill="#222"/>
<circle cx="359.2" cy="179.8" r="1.3" fill="#222"/>
<circle cx="404.3" cy="179.8" r="1.3" fill="#222"/>
<circle cx="415.6" cy="179.8" r="1.3" fill="#222"/>
<circle cx="426.8" cy="179.8" r="1.3" fill="#222"/>
<circle cx="438.1" cy="179.8" r="1.3" fill="#222"/>
<circle cx="449.4" cy="179.8" r="1.3" fill="#222"/>
<circle cx="483.2" cy="179.8" r="1.3" fill="#222"/>
<circle cx="99.7" cy="193.2" r="1.3" fill="#222"/>
<circle cx="190.0" cy="193.2" r="1.3" fill="#222"/>
<circle cx="201.3" cy="193.2" r="1.3" fill="#222"/>
<circle cx="223.8" cy="193.2" r="1.3" fill="#222"/>
<circle cx="325.3" cy="193.2" r="1.3" fill="#222"/>
<circle cx="404.3" cy="193.2" r="1.3" fill="#222"/>
<circle cx="415.6" cy="193.2" r="1.3" fill="#222"/>
<circle cx="426.8" cy="193.2" r="1.3" fill="#222"/>
<circle cx="438.1" cy="193.2" r="1.3" fill="#222"/>
<circle cx="449.4" cy="193.2" r="1.3" fill="#222"/>
<circle cx="460.7" cy="193.2" r="1.3" fill="#222"/>
<circle cx="223.8" cy="206.6" r="1.3" fill="#222"/>
<circle cx="393.0" cy="206.6" r="1.3" fill="#222"/>
<circle cx="404.3" cy="206.6" r="1.3" fill="#222"/>
<circle cx="415.6" cy="206.6" r="1.3" fill="#222"/>
<circle cx="426.8" cy="206.6" r="1.3" fill="#222"/>
<circle cx="438.1" cy="206.6" r="1.3" fill="#222"/>
<circle cx="449.4" cy="206.6" r="1.3" fill="#222"/>
<circle cx="460.7" cy="206.6" r="1.3" fill="#222"/>
<circle cx="483.2" cy="206.6" r="1.3" fill="#222"/>
<circle cx="494.5" cy="206.6" r="1.3" fill="#222"/>
<circle cx="257.7" cy="220.0" r="1.3" fill="#222"/>
<circle cx="268.9" cy="220.0" r="1.3" fill="#222"/>
<circle cx="336.6" cy="220.0" r="1.3" fill="#222"/>
<circle cx="347.9" cy="220.0" r="1.3" fill="#222"/>
<circle cx="393.0" cy="220.0" r="1.3" fill="#222"/>
<circle cx="404.3" cy="220.0" r="1.3" fill="#222"/>
<circle cx="415.6" cy="220.0" r="1.3" fill="#222"/>
<circle cx="449.4" cy="220.0" r="1.3" fill="#222"/>
<circle cx="460.7" cy="220.0" r="1.3" fill="#222"/>
<circle cx="99.7" cy="233.4" r="1.3" fill="#222"/>
<circle cx="111.0" cy="233.4" r="1.3" fill="#222"/>
<circle cx="223.8" cy="233.4" r="1.3" fill="#222"/>
<circle cx="235.1" cy="233.4" r="1.3" fill="#222"/>
<circle cx="381.7" cy="233.4" r="1.3" fill="#222"/>
<circle cx="393.0" cy="233.4" r="1.3" fill="#222"/>
<circle cx="404.3" cy="233.4" r="1.3" fill="#222"/>
<circle cx="415.6" cy="233.4" r="1.3" fill="#222"/>
<circle cx="449.4" cy="233.4" r="1.3" fill="#222"/>
<circle cx="460.7" cy="233.4" r="1.3" fill="#222"/>
<circle cx="257.7" cy="260.3" r="1.3" fill="#222"/>
<circle cx="268.9" cy="260.3" r="1.3" fill="#222"/>
<circle cx="280.2" cy="260.3" r="1.3" fill="#222"/>
<circle cx="291.5" cy="260.3" r="1.3" fill="#222"/>
<circle cx="325.3" cy="260.3" r="1.3" fill="#222"/>
<circle cx="336.6" cy="260.3" r="1.3" fill="#222"/>
<circle cx="347.9" cy="260.3" r="1.3" fill="#222"/>
<circle cx="359.2" cy="260.3" r="1.3" fill="#222"/>
<circle cx="370.4" cy="260.3" r="1.3" fill="#222"/>
<circle cx="393.0" cy="260.3" r="1.3" fill="#222"/>
<circle cx="415.6" cy="260.3" r="1.3" fill="#222"/>
<circle cx="280.2" cy="273.7" r="1.3" fill="#222"/>
<circle cx="291.5" cy="273.7" r="1.3" fill="#222"/>
<circle cx="302.8" cy="273.7" r="1.3" fill="#222"/>
<circle cx="325.3" cy="273.7" r="1.3" fill="#222"/>
<circle cx="336.6" cy="273.7" r="1.3" fill="#222"/>
<circle cx="347.9" cy="273.7" r="1.3" fill="#222"/>
<circle cx="359.2" cy="273.7" r="1.3" fill="#222"/>
<circle cx="370.4" cy="273.7" r="1.3" fill="#222"/>
<circle cx="381.7" cy="273.7" r="1.3" fill="#222"/>
<circle cx="393.0" cy="273.7" r="1.3" fill="#222"/>
<circle cx="404.3" cy="273.7" r="1.3" fill="#222"/>
<circle cx="415.6" cy="273.7" r="1.3" fill="#222"/>
<circle cx="449.4" cy="273.7" r="1.3" fill="#222"/>
<circle cx="438.1" cy="287.1" r="1.3" fill="#222"/>
<circle cx="449.4" cy="287.1" r="1.3" fill="#222"/>
<rect x="110.9" y="99.5" width="124.2" height="120.6" fill="none" stroke="#3a4ee6" stroke-width="1.8"/>
<rect x="235.1" y="246.9" width="191.8" height="40.3" fill="none" stroke="#3a4ee6" stroke-width="1.8"/>
<rect x="370.3" y="166.5" width="101.7" height="80.3" fill="none" stroke="#e0505c" stroke-width="1.5"/>
<text x="116" y="217.2" font-size="18.5" fill="#e03584" textLength="39" lengthAdjust="spacingAndGlyphs">west</text>
<text x="373.9" y="181.3" font-size="18.5" fill="#e03584" textLength="37" lengthAdjust="spacingAndGlyphs">east</text>
<text x="237.3" y="284.7" font-size="18.5" fill="#e03584" textLength="48.2" lengthAdjust="spacingAndGlyphs">south</text>
</g>
<polyline points="618.7,74.0 633.8,70.6 649.0,72.4 664.1,80.5 679.3,95.7 694.4,116.0 709.6,135.9 724.7,150.1 739.9,160.3 755.0,167.4 770.2,173.5 785.4,179.1 800.5,183.8 815.7,181.8 830.8,174.3 846.0,164.7 861.1,156.2 876.3,154.6 891.4,163.7 906.6,185.2 921.8,208.6 936.9,234.9 952.1,249.8 967.2,257.7 982.4,260.9 997.5,264.0 1012.7,269.0 1027.8,275.5" fill="none" stroke="#e84a50" stroke-width="2" stroke-linejoin="round" stroke-linecap="round"/>
<polyline points="618.7,105.5 633.8,103.3 649.0,100.8 664.1,102.2 679.3,110.4 694.4,126.2 709.6,144.5 724.7,162.7 739.9,172.8 755.0,177.5 770.2,174.2 785.4,170.0 800.5,165.0 815.7,161.7 830.8,161.1 846.0,160.7 861.1,162.7 876.3,169.8 891.4,180.1 906.6,196.4 921.8,211.6 936.9,226.8 952.1,232.5 967.2,233.5 982.4,235.0 997.5,239.0 1012.7,248.1 1027.8,259.3" fill="none" stroke="#2ecc2e" stroke-width="2" stroke-linejoin="round" stroke-linecap="round"/>
<polyline points="618.7,74.4 633.8,79.1 649.0,87.2 664.1,98.8 679.3,115.0 694.4,136.0 709.6,157.0 724.7,181.0 739.9,194.2 755.0,203.1 770.2,207.1 785.4,213.6 800.5,216.3 815.7,212.6 830.8,200.4 846.0,182.2 861.1,154.6 876.3,130.2 891.4,120.5 906.6,129.8 921.8,155.6 936.9,194.0 952.1,216.7 967.2,225.8 982.4,228.5 997.5,229.3 1012.7,236.0 1027.8,247.5" fill="none" stroke="#2ebdbf" stroke-width="2" stroke-linejoin="round" stroke-linecap="round"/>
<polyline points="618.7,137.6 633.8,139.6 649.0,161.7 664.1,196.4 679.3,229.9 694.4,254.2 709.6,269.0 724.7,275.1 739.9,275.1 755.0,273.5 770.2,268.4 785.4,263.4 800.5,256.3 815.7,244.1 830.8,224.8 846.0,201.5 861.1,173.0 876.3,139.4 891.4,105.9 906.6,81.1 921.8,68.7 936.9,70.0 952.1,76.9 967.2,83.2 982.4,86.2 997.5,86.6 1012.7,93.3 1027.8,104.3" fill="none" stroke="#3c4be0" stroke-width="2" stroke-linejoin="round" stroke-linecap="round"/>
<polyline points="81.2,488.2 96.3,487.2 111.5,505.5 126.6,541.5 141.8,580.7 156.9,618.3 172.1,640.6 187.2,647.7 202.4,640.6 217.5,631.5 232.7,622.3 247.9,614.2 263.0,605.1 278.2,591.9 293.3,577.7 308.5,560.4 323.6,550.3 338.8,536.1 353.9,517.7 369.1,493.3 384.3,468.5 399.4,451.7 414.6,439.5 429.7,432.4 444.9,429.4 460.0,424.9 475.2,426.7 490.3,435.5" fill="none" stroke="#e84a50" stroke-width="2" stroke-linejoin="round" stroke-linecap="round"/>
<polyline points="618.7,496.3 633.8,490.3 649.0,484.2 664.1,480.1 679.3,482.1 694.4,490.3 709.6,500.4 724.7,506.5 739.9,511.6 755.0,515.6 770.2,519.7 785.4,524.8 800.5,528.8 815.7,529.8 830.8,528.2 846.0,526.8 861.1,525.8 876.3,526.8 891.4,533.5 906.6,544.2 921.8,558.4 936.9,572.6 952.1,582.4 967.2,587.4 982.4,589.3 997.5,589.3 1012.7,589.3 1027.8,589.5" fill="none" stroke="#e84a50" stroke-width="2" stroke-linejoin="round" stroke-linecap="round"/>
<polyline points="81.2,482.7 96.3,493.3 111.5,508.5 126.6,520.7 141.8,538.1 156.9,547.3 172.1,554.4 187.2,558.4 202.4,558.0 217.5,555.4 232.7,552.3 247.9,550.9 263.0,549.7 278.2,548.7 293.3,547.3 308.5,544.2 323.6,540.1 338.8,534.0 353.9,529.7 369.1,523.7 384.3,517.7 399.4,510.6 414.6,504.5 429.7,499.8 444.9,499.4 460.0,507.5 475.2,520.7 490.3,535.5" fill="none" stroke="#2ecc2e" stroke-width="2" stroke-linejoin="round" stroke-linecap="round"/>
<polyline points="618.7,474.0 633.8,464.9 649.0,458.4 664.1,458.8 679.3,468.9 694.4,486.2 709.6,503.5 724.7,513.6 739.9,520.7 755.0,526.8 770.2,531.5 785.4,536.1 800.5,539.1 815.7,537.1 830.8,530.5 846.0,522.7 861.1,516.6 876.3,517.3 891.4,525.8 906.6,545.2 921.8,563.5 936.9,584.8 952.1,596.0 967.2,599.4 982.4,599.0 997.5,598.2 1012.7,600.0 1027.8,604.1" fill="none" stroke="#2ecc2e" stroke-width="2" stroke-linejoin="round" stroke-linecap="round"/>
<polyline points="81.2,530.9 96.3,525.8 111.5,532.5 126.6,546.2 141.8,562.5 156.9,577.7 172.1,582.4 187.2,581.1 202.4,577.7 217.5,573.0 232.7,567.5 247.9,562.9 263.0,558.4 278.2,553.3 293.3,544.2 308.5,534.1 323.6,513.6 338.8,485.2 353.9,459.8 369.1,442.6 384.3,441.5 399.4,457.8 414.6,484.2 429.7,505.5 444.9,518.7 460.0,524.8 475.2,526.2 490.3,525.4" fill="none" stroke="#2ebdbf" stroke-width="2" stroke-linejoin="round" stroke-linecap="round"/>
<polyline points="618.7,467.9 633.8,480.1 649.0,503.5 664.1,525.5 679.3,550.3 694.4,570.6 709.6,589.9 724.7,602.1 739.9,605.1 755.0,603.5 770.2,600.0 785.4,599.0 800.5,596.0 815.7,587.8 830.8,570.6 846.0,544.2 861.1,512.6 876.3,494.3 891.4,479.1 906.6,461.8 921.8,442.6 936.9,428.8 952.1,423.9 967.2,441.5 982.4,476.1 997.5,521.7 1012.7,564.0 1027.8,601.0" fill="none" stroke="#2ebdbf" stroke-width="2" stroke-linejoin="round" stroke-linecap="round"/>
<polyline points="81.2,546.6 96.3,546.2 111.5,554.4 126.6,564.5 141.8,567.5 156.9,563.5 172.1,562.1 187.2,566.5 202.4,576.7 217.5,588.9 232.7,594.5 247.9,597.6 263.0,596.0 278.2,588.9 293.3,571.6 308.5,551.3 323.6,526.0 338.8,497.4 353.9,472.6 369.1,459.8 384.3,462.9 399.4,475.0 414.6,486.2 429.7,490.9 444.9,486.8 460.0,479.1 475.2,475.4 490.3,477.7" fill="none" stroke="#3c4be0" stroke-width="2" stroke-linejoin="round" stroke-linecap="round"/>
<polyline points="618.7,436.1 633.8,436.1 649.0,446.6 664.1,462.9 679.3,484.2 694.4,506.5 709.6,527.0 724.7,541.2 739.9,549.3 755.0,554.4 770.2,558.4 785.4,561.5 800.5,560.9 815.7,555.4 830.8,545.2 846.0,532.0 861.1,524.5 876.3,514.6 891.4,516.0 906.6,525.4 921.8,543.2 936.9,556.0 952.1,564.1 967.2,566.9 982.4,569.6 997.5,575.1 1012.7,585.8 1027.8,597.0" fill="none" stroke="#3c4be0" stroke-width="2" stroke-linejoin="round" stroke-linecap="round"/>
<path d="M18.3,688.1 L18.3,13 Q18.3,11.3 20,11.3 L519.2,11.3 L520.5,13.9 L1059.5,13.9 Q1061.1,13.9 1061.1,15.5 L1061.1,686.5 Q1061.1,688.1 1059.5,688.1 L20,688.1 Q18.3,688.1 18.3,686.5 Z" fill="none" stroke="#cdcdcd" stroke-width="1.5"/>
<line x1="633.81" y1="300.6" x2="633.81" y2="305.90000000000003" stroke="#3a3a3a" stroke-width="1.6"/>
<text x="615.41" y="322.70" font-size="19" fill="#444444" textLength="37.60" lengthAdjust="spacingAndGlyphs">1980</text>
<line x1="709.59" y1="300.6" x2="709.59" y2="305.90000000000003" stroke="#3a3a3a" stroke-width="1.6"/>
<text x="691.19" y="322.70" font-size="19" fill="#444444" textLength="37.60" lengthAdjust="spacingAndGlyphs">1985</text>
<line x1="785.36" y1="300.6" x2="785.36" y2="305.90000000000003" stroke="#3a3a3a" stroke-width="1.6"/>
<text x="766.96" y="322.70" font-size="19" fill="#444444" textLength="37.60" lengthAdjust="spacingAndGlyphs">1990</text>
<line x1="861.14" y1="300.6" x2="861.14" y2="305.90000000000003" stroke="#3a3a3a" stroke-width="1.6"/>
<text x="842.74" y="322.70" font-size="19" fill="#444444" textLength="37.60" lengthAdjust="spacingAndGlyphs">1995</text>
<line x1="936.91" y1="300.6" x2="936.91" y2="305.90000000000003" stroke="#3a3a3a" stroke-width="1.6"/>
<text x="918.51" y="322.70" font-size="19" fill="#444444" textLength="37.60" lengthAdjust="spacingAndGlyphs">2000</text>
<line x1="1012.69" y1="300.6" x2="1012.69" y2="305.90000000000003" stroke="#3a3a3a" stroke-width="1.6"/>
<text x="994.29" y="322.70" font-size="19" fill="#444444" textLength="37.60" lengthAdjust="spacingAndGlyphs">2005</text>
<line x1="597.5" y1="45.60" x2="603.5" y2="45.60" stroke="#3a3a3a" stroke-width="1.6"/>
<text x="574.30" y="52.50" font-size="19" fill="#444444" textLength="18.00" lengthAdjust="spacingAndGlyphs">10</text>
<line x1="597.5" y1="109.35" x2="603.5" y2="109.35" stroke="#3a3a3a" stroke-width="1.6"/>
<text x="583.60" y="116.25" font-size="19" fill="#444444" textLength="8.70" lengthAdjust="spacingAndGlyphs">5</text>
<line x1="597.5" y1="173.10" x2="603.5" y2="173.10" stroke="#3a3a3a" stroke-width="1.6"/>
<text x="583.60" y="180.00" font-size="19" fill="#444444" textLength="8.70" lengthAdjust="spacingAndGlyphs">0</text>
<line x1="597.5" y1="236.85" x2="603.5" y2="236.85" stroke="#3a3a3a" stroke-width="1.6"/>
<text x="570.40" y="243.75" font-size="19" fill="#444444" textLength="21.90" lengthAdjust="spacingAndGlyphs">−5</text>
<line x1="597.5" y1="300.60" x2="603.5" y2="300.60" stroke="#3a3a3a" stroke-width="1.6"/>
<text x="561.10" y="307.50" font-size="19" fill="#444444" textLength="31.20" lengthAdjust="spacingAndGlyphs">−10</text>
<line x1="96.30" y1="659.1" x2="96.30" y2="664.4" stroke="#3a3a3a" stroke-width="1.6"/>
<text x="77.90" y="681.20" font-size="19" fill="#444444" textLength="37.60" lengthAdjust="spacingAndGlyphs">1980</text>
<line x1="172.06" y1="659.1" x2="172.06" y2="664.4" stroke="#3a3a3a" stroke-width="1.6"/>
<text x="153.66" y="681.20" font-size="19" fill="#444444" textLength="37.60" lengthAdjust="spacingAndGlyphs">1985</text>
<line x1="247.82" y1="659.1" x2="247.82" y2="664.4" stroke="#3a3a3a" stroke-width="1.6"/>
<text x="229.42" y="681.20" font-size="19" fill="#444444" textLength="37.60" lengthAdjust="spacingAndGlyphs">1990</text>
<line x1="323.58" y1="659.1" x2="323.58" y2="664.4" stroke="#3a3a3a" stroke-width="1.6"/>
<text x="305.18" y="681.20" font-size="19" fill="#444444" textLength="37.60" lengthAdjust="spacingAndGlyphs">1995</text>
<line x1="399.34" y1="659.1" x2="399.34" y2="664.4" stroke="#3a3a3a" stroke-width="1.6"/>
<text x="380.94" y="681.20" font-size="19" fill="#444444" textLength="37.60" lengthAdjust="spacingAndGlyphs">2000</text>
<line x1="475.10" y1="659.1" x2="475.10" y2="664.4" stroke="#3a3a3a" stroke-width="1.6"/>
<text x="456.70" y="681.20" font-size="19" fill="#444444" textLength="37.60" lengthAdjust="spacingAndGlyphs">2005</text>
<line x1="60.0" y1="404.60" x2="66.0" y2="404.60" stroke="#3a3a3a" stroke-width="1.6"/>
<text x="36.80" y="411.50" font-size="19" fill="#444444" textLength="18.00" lengthAdjust="spacingAndGlyphs">18</text>
<line x1="60.0" y1="468.23" x2="66.0" y2="468.23" stroke="#3a3a3a" stroke-width="1.6"/>
<text x="46.10" y="475.12" font-size="19" fill="#444444" textLength="8.70" lengthAdjust="spacingAndGlyphs">9</text>
<line x1="60.0" y1="531.85" x2="66.0" y2="531.85" stroke="#3a3a3a" stroke-width="1.6"/>
<text x="46.10" y="538.75" font-size="19" fill="#444444" textLength="8.70" lengthAdjust="spacingAndGlyphs">0</text>
<line x1="60.0" y1="595.48" x2="66.0" y2="595.48" stroke="#3a3a3a" stroke-width="1.6"/>
<text x="32.90" y="602.38" font-size="19" fill="#444444" textLength="21.90" lengthAdjust="spacingAndGlyphs">−9</text>
<line x1="60.0" y1="659.10" x2="66.0" y2="659.10" stroke="#3a3a3a" stroke-width="1.6"/>
<text x="23.60" y="666.00" font-size="19" fill="#444444" textLength="31.20" lengthAdjust="spacingAndGlyphs">−18</text>
<line x1="633.81" y1="659.1" x2="633.81" y2="664.4" stroke="#3a3a3a" stroke-width="1.6"/>
<text x="615.41" y="681.20" font-size="19" fill="#444444" textLength="37.60" lengthAdjust="spacingAndGlyphs">1980</text>
<line x1="709.59" y1="659.1" x2="709.59" y2="664.4" stroke="#3a3a3a" stroke-width="1.6"/>
<text x="691.19" y="681.20" font-size="19" fill="#444444" textLength="37.60" lengthAdjust="spacingAndGlyphs">1985</text>
<line x1="785.36" y1="659.1" x2="785.36" y2="664.4" stroke="#3a3a3a" stroke-width="1.6"/>
<text x="766.96" y="681.20" font-size="19" fill="#444444" textLength="37.60" lengthAdjust="spacingAndGlyphs">1990</text>
<line x1="861.14" y1="659.1" x2="861.14" y2="664.4" stroke="#3a3a3a" stroke-width="1.6"/>
<text x="842.74" y="681.20" font-size="19" fill="#444444" textLength="37.60" lengthAdjust="spacingAndGlyphs">1995</text>
<line x1="936.91" y1="659.1" x2="936.91" y2="664.4" stroke="#3a3a3a" stroke-width="1.6"/>
<text x="918.51" y="681.20" font-size="19" fill="#444444" textLength="37.60" lengthAdjust="spacingAndGlyphs">2000</text>
<line x1="1012.69" y1="659.1" x2="1012.69" y2="664.4" stroke="#3a3a3a" stroke-width="1.6"/>
<text x="994.29" y="681.20" font-size="19" fill="#444444" textLength="37.60" lengthAdjust="spacingAndGlyphs">2005</text>
<line x1="597.5" y1="404.60" x2="603.5" y2="404.60" stroke="#3a3a3a" stroke-width="1.6"/>
<text x="574.30" y="411.50" font-size="19" fill="#444444" textLength="18.00" lengthAdjust="spacingAndGlyphs">18</text>
<line x1="597.5" y1="468.23" x2="603.5" y2="468.23" stroke="#3a3a3a" stroke-width="1.6"/>
<text x="583.60" y="475.12" font-size="19" fill="#444444" textLength="8.70" lengthAdjust="spacingAndGlyphs">9</text>
<line x1="597.5" y1="531.85" x2="603.5" y2="531.85" stroke="#3a3a3a" stroke-width="1.6"/>
<text x="583.60" y="538.75" font-size="19" fill="#444444" textLength="8.70" lengthAdjust="spacingAndGlyphs">0</text>
<line x1="597.5" y1="595.48" x2="603.5" y2="595.48" stroke="#3a3a3a" stroke-width="1.6"/>
<text x="570.40" y="602.38" font-size="19" fill="#444444" textLength="21.90" lengthAdjust="spacingAndGlyphs">−9</text>
<line x1="597.5" y1="659.10" x2="603.5" y2="659.10" stroke="#3a3a3a" stroke-width="1.6"/>
<text x="561.10" y="666.00" font-size="19" fill="#444444" textLength="31.20" lengthAdjust="spacingAndGlyphs">−18</text>
<text x="845.00" y="37.70" font-size="18.5" fill="#444444" textLength="34.80" lengthAdjust="spacingAndGlyphs">Area</text>
<text x="892.00" y="37.70" font-size="18.5" fill="#444444" textLength="44.20" lengthAdjust="spacingAndGlyphs">mean</text>
<text x="947.30" y="37.70" font-size="18.5" fill="#444444" textLength="39.80" lengthAdjust="spacingAndGlyphs">snow</text>
<text x="998.20" y="37.70" font-size="18.5" fill="#444444" textLength="43.20" lengthAdjust="spacingAndGlyphs">cover</text>
<text x="261.00" y="37.60" font-size="18.5" fill="#444444" textLength="49.20" lengthAdjust="spacingAndGlyphs">Linear</text>
<text x="322.80" y="37.60" font-size="18.5" fill="#444444" textLength="49.70" lengthAdjust="spacingAndGlyphs">trends</text>
<text x="384.30" y="37.60" font-size="18.5" fill="#444444" textLength="14.40" lengthAdjust="spacingAndGlyphs">of</text>
<text x="410.50" y="37.60" font-size="18.5" fill="#444444" textLength="39.20" lengthAdjust="spacingAndGlyphs">snow</text>
<text x="461.50" y="37.60" font-size="18.5" fill="#444444" textLength="42.30" lengthAdjust="spacingAndGlyphs">cover</text>
<text x="303.90" y="396.40" font-size="18.5" fill="#444444" textLength="33.90" lengthAdjust="spacingAndGlyphs">East</text>
<text x="348.00" y="396.40" font-size="18.5" fill="#444444" textLength="50.80" lengthAdjust="spacingAndGlyphs">region</text>
<text x="410.40" y="396.40" font-size="18.5" fill="#444444" textLength="38.80" lengthAdjust="spacingAndGlyphs">snow</text>
<text x="460.80" y="396.40" font-size="18.5" fill="#444444" textLength="43.60" lengthAdjust="spacingAndGlyphs">cover</text>
<text x="828.80" y="396.40" font-size="18.5" fill="#444444" textLength="45.60" lengthAdjust="spacingAndGlyphs">South</text>
<text x="885.80" y="396.40" font-size="18.5" fill="#444444" textLength="50.20" lengthAdjust="spacingAndGlyphs">region</text>
<text x="947.70" y="396.40" font-size="18.5" fill="#444444" textLength="39.60" lengthAdjust="spacingAndGlyphs">snow</text>
<text x="998.50" y="396.40" font-size="18.5" fill="#444444" textLength="43.60" lengthAdjust="spacingAndGlyphs">cover</text>
<text x="67.20" y="37.70" font-size="19.5" fill="#444444" textLength="22.80" lengthAdjust="spacingAndGlyphs">(a)</text>
<text x="604.60" y="37.70" font-size="19.5" fill="#444444" textLength="22.40" lengthAdjust="spacingAndGlyphs">(b)</text>
<text x="67.20" y="396.40" font-size="19.5" fill="#444444" textLength="22.00" lengthAdjust="spacingAndGlyphs">(c)</text>
<text x="603.60" y="396.40" font-size="19.5" fill="#444444" textLength="24.10" lengthAdjust="spacingAndGlyphs">(d)</text>
<text x="731.50" y="71.80" font-size="18.5" fill="#e84a50" textLength="39.10" lengthAdjust="spacingAndGlyphs">west</text>
<text x="809.30" y="71.80" font-size="18.5" fill="#33cc33" textLength="48.70" lengthAdjust="spacingAndGlyphs">south</text>
<text x="731.50" y="101.10" font-size="18.5" fill="#4050e0" textLength="36.90" lengthAdjust="spacingAndGlyphs">east</text>
<text x="809.70" y="101.10" font-size="18.5" fill="#30bcc0" textLength="48.30" lengthAdjust="spacingAndGlyphs">whole</text>
<text x="184.20" y="430.60" font-size="19.5" fill="#e84a50" textLength="36.20" lengthAdjust="spacingAndGlyphs">MAM</text>
<text x="261.70" y="430.60" font-size="19.5" fill="#33cc33" textLength="29.10" lengthAdjust="spacingAndGlyphs">JJA</text>
<text x="184.20" y="459.60" font-size="19.5" fill="#4050e0" textLength="35.50" lengthAdjust="spacingAndGlyphs">SON</text>
<text x="262.30" y="459.60" font-size="19.5" fill="#30bcc0" textLength="29.70" lengthAdjust="spacingAndGlyphs">DJF</text>
<text x="672.90" y="430.10" font-size="19" fill="#e84a50" textLength="106.40" lengthAdjust="spacingAndGlyphs">2000−2999</text>
<text x="809.30" y="430.10" font-size="19" fill="#33cc33" textLength="106.40" lengthAdjust="spacingAndGlyphs">3000−3999</text>
<text x="672.90" y="459.10" font-size="19" fill="#4050e0" textLength="106.40" lengthAdjust="spacingAndGlyphs">4000−4999</text>
<text x="809.80" y="459.10" font-size="19" fill="#30bcc0" textLength="73.70" lengthAdjust="spacingAndGlyphs">&gt;=5000</text>
<line x1="59.900000000000006" y1="52.31" x2="65.9" y2="52.31" stroke="#3a3a3a" stroke-width="1.6"/>
<text x="25.30" y="59.21" font-size="19" fill="#444444" textLength="29.30" lengthAdjust="spacingAndGlyphs">44N</text>
<line x1="59.900000000000006" y1="105.97" x2="65.9" y2="105.97" stroke="#3a3a3a" stroke-width="1.6"/>
<text x="25.30" y="112.87" font-size="19" fill="#444444" textLength="29.30" lengthAdjust="spacingAndGlyphs">40N</text>
<line x1="59.900000000000006" y1="159.63" x2="65.9" y2="159.63" stroke="#3a3a3a" stroke-width="1.6"/>
<text x="25.30" y="166.53" font-size="19" fill="#444444" textLength="29.30" lengthAdjust="spacingAndGlyphs">36N</text>
<line x1="59.900000000000006" y1="213.30" x2="65.9" y2="213.30" stroke="#3a3a3a" stroke-width="1.6"/>
<text x="25.30" y="220.20" font-size="19" fill="#444444" textLength="29.30" lengthAdjust="spacingAndGlyphs">32N</text>
<line x1="59.900000000000006" y1="266.96" x2="65.9" y2="266.96" stroke="#3a3a3a" stroke-width="1.6"/>
<text x="25.30" y="273.86" font-size="19" fill="#444444" textLength="29.30" lengthAdjust="spacingAndGlyphs">28N</text>
<line x1="122.30" y1="300.5" x2="122.30" y2="305.8" stroke="#3a3a3a" stroke-width="1.6"/>
<text x="109.30" y="322.60" font-size="19" fill="#444444" textLength="27.20" lengthAdjust="spacingAndGlyphs">70E</text>
<line x1="235.09" y1="300.5" x2="235.09" y2="305.8" stroke="#3a3a3a" stroke-width="1.6"/>
<text x="222.09" y="322.60" font-size="19" fill="#444444" textLength="27.20" lengthAdjust="spacingAndGlyphs">80E</text>
<line x1="347.89" y1="300.5" x2="347.89" y2="305.8" stroke="#3a3a3a" stroke-width="1.6"/>
<text x="334.89" y="322.60" font-size="19" fill="#444444" textLength="27.20" lengthAdjust="spacingAndGlyphs">90E</text>
<line x1="460.68" y1="300.5" x2="460.68" y2="305.8" stroke="#3a3a3a" stroke-width="1.6"/>
<text x="442.93" y="322.60" font-size="19" fill="#444444" textLength="36.70" lengthAdjust="spacingAndGlyphs">100E</text>
<rect x="86.60" y="336.6" width="23.41" height="10.9" fill="#3a48a5" stroke="#2a2a2a" stroke-width="1.1"/>
<rect x="110.01" y="336.6" width="23.41" height="10.9" fill="#4064af" stroke="#2a2a2a" stroke-width="1.1"/>
<rect x="133.42" y="336.6" width="23.41" height="10.9" fill="#4c80b9" stroke="#2a2a2a" stroke-width="1.1"/>
<rect x="156.84" y="336.6" width="23.41" height="10.9" fill="#6499c6" stroke="#2a2a2a" stroke-width="1.1"/>
<rect x="180.25" y="336.6" width="23.41" height="10.9" fill="#8fc0de" stroke="#2a2a2a" stroke-width="1.1"/>
<rect x="203.66" y="336.6" width="23.41" height="10.9" fill="#a6d4e8" stroke="#2a2a2a" stroke-width="1.1"/>
<rect x="227.07" y="336.6" width="23.41" height="10.9" fill="#bfe0ee" stroke="#2a2a2a" stroke-width="1.1"/>
<rect x="250.48" y="336.6" width="23.41" height="10.9" fill="#d4ecf2" stroke="#2a2a2a" stroke-width="1.1"/>
<rect x="273.89" y="336.6" width="23.41" height="10.9" fill="#ffffff" stroke="#2a2a2a" stroke-width="1.1"/>
<rect x="297.31" y="336.6" width="23.41" height="10.9" fill="#f8de96" stroke="#2a2a2a" stroke-width="1.1"/>
<rect x="320.72" y="336.6" width="23.41" height="10.9" fill="#f9c97c" stroke="#2a2a2a" stroke-width="1.1"/>
<rect x="344.13" y="336.6" width="23.41" height="10.9" fill="#fbb566" stroke="#2a2a2a" stroke-width="1.1"/>
<rect x="367.54" y="336.6" width="23.41" height="10.9" fill="#f99d56" stroke="#2a2a2a" stroke-width="1.1"/>
<rect x="390.95" y="336.6" width="23.41" height="10.9" fill="#f06642" stroke="#2a2a2a" stroke-width="1.1"/>
<rect x="414.36" y="336.6" width="23.41" height="10.9" fill="#e44c33" stroke="#2a2a2a" stroke-width="1.1"/>
<rect x="437.78" y="336.6" width="23.41" height="10.9" fill="#d7302c" stroke="#2a2a2a" stroke-width="1.1"/>
<rect x="461.19" y="336.6" width="23.41" height="10.9" fill="#c11c25" stroke="#2a2a2a" stroke-width="1.1"/>
<text x="99.81" y="359.80" font-size="12.5" fill="#444444" textLength="21.00" lengthAdjust="spacingAndGlyphs">−15</text>
<text x="123.22" y="359.80" font-size="12.5" fill="#444444" textLength="21.00" lengthAdjust="spacingAndGlyphs">−13</text>
<text x="146.64" y="359.80" font-size="12.5" fill="#444444" textLength="21.00" lengthAdjust="spacingAndGlyphs">−11</text>
<text x="173.45" y="359.80" font-size="12.5" fill="#444444" textLength="14.20" lengthAdjust="spacingAndGlyphs">−9</text>
<text x="196.86" y="359.80" font-size="12.5" fill="#444444" textLength="14.20" lengthAdjust="spacingAndGlyphs">−7</text>
<text x="220.27" y="359.80" font-size="12.5" fill="#444444" textLength="14.20" lengthAdjust="spacingAndGlyphs">−5</text>
<text x="243.68" y="359.80" font-size="12.5" fill="#444444" textLength="14.20" lengthAdjust="spacingAndGlyphs">−3</text>
<text x="267.09" y="359.80" font-size="12.5" fill="#444444" textLength="14.20" lengthAdjust="spacingAndGlyphs">−1</text>
<text x="293.91" y="359.80" font-size="12.5" fill="#444444" textLength="6.80" lengthAdjust="spacingAndGlyphs">1</text>
<text x="317.32" y="359.80" font-size="12.5" fill="#444444" textLength="6.80" lengthAdjust="spacingAndGlyphs">3</text>
<text x="340.73" y="359.80" font-size="12.5" fill="#444444" textLength="6.80" lengthAdjust="spacingAndGlyphs">5</text>
<text x="364.14" y="359.80" font-size="12.5" fill="#444444" textLength="6.80" lengthAdjust="spacingAndGlyphs">7</text>
<text x="387.55" y="359.80" font-size="12.5" fill="#444444" textLength="6.80" lengthAdjust="spacingAndGlyphs">9</text>
<text x="407.56" y="359.80" font-size="12.5" fill="#444444" textLength="13.60" lengthAdjust="spacingAndGlyphs">11</text>
<text x="430.98" y="359.80" font-size="12.5" fill="#444444" textLength="13.60" lengthAdjust="spacingAndGlyphs">13</text>
<text x="454.39" y="359.80" font-size="12.5" fill="#444444" textLength="13.60" lengthAdjust="spacingAndGlyphs">15</text>
<rect x="65.9" y="45.6" width="439.90" height="254.90" fill="none" stroke="#3a3a3a" stroke-width="1.6"/>
<rect x="603.5" y="45.6" width="439.5" height="255" fill="none" stroke="#3a3a3a" stroke-width="1.6"/>
<rect x="66.0" y="404.6" width="439.4" height="254.5" fill="none" stroke="#3a3a3a" stroke-width="1.6"/>
<rect x="603.5" y="404.6" width="439.5" height="254.5" fill="none" stroke="#3a3a3a" stroke-width="1.6"/>
</svg></body></html>
